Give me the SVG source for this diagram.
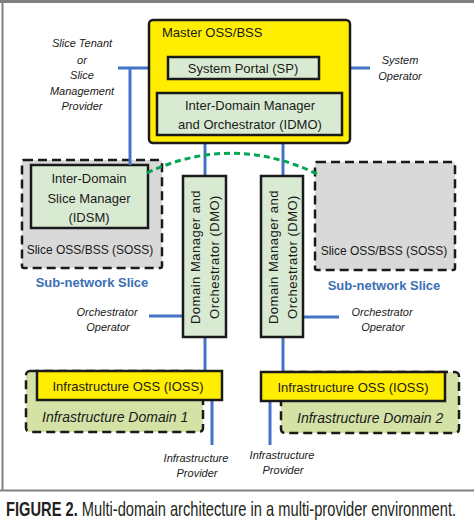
<svg xmlns="http://www.w3.org/2000/svg" width="474" height="523" viewBox="0 0 474 523">
<style>
.t{font-family:"Liberation Sans",Arial,sans-serif;font-size:13px;fill:#1a1a1a}
.i{font-family:"Liberation Sans",Arial,sans-serif;font-size:11px;font-style:italic;fill:#1a1a1a;text-anchor:middle}
.m{text-anchor:middle}
.v{letter-spacing:0.5px}
.blue{stroke:#4472c4;stroke-width:3;fill:none}
.gbox{fill:#d9ead3;stroke:#1a1a1a;stroke-width:2.5}
.ybox{fill:#ffee00;stroke:#1a1a1a;stroke-width:2.5}
.soss{fill:#d9d9d9;stroke:#1a1a1a;stroke-width:2.5;stroke-dasharray:9 5}
.dom{fill:#d4e2a6;stroke:#1a1a1a;stroke-width:2.5;stroke-dasharray:9 5}
.sub{font-family:"Liberation Sans",Arial,sans-serif;font-size:13px;font-weight:bold;fill:#3b6fb6;text-anchor:middle}
</style>
<rect x="0" y="0" width="474" height="523" fill="#ffffff"/>
<g id="frame" stroke="#808080" fill="none">
<line x1="0" y1="1.5" x2="474" y2="1.5" stroke-width="3"/>
<line x1="2.5" y1="0" x2="2.5" y2="491" stroke-width="2"/>
<line x1="0" y1="490.5" x2="474" y2="490.5" stroke-width="2"/>
</g>
<g id="soss-left">
<rect class="soss" x="22" y="160" width="140" height="108" rx="2"/>
<text class="t" x="90" y="254" style="font-size:12px" text-anchor="middle">Slice OSS/BSS (SOSS)</text>
<text class="sub" x="92" y="287">Sub-network Slice</text>
</g>
<g id="idsm">
<rect class="gbox" x="31" y="165" width="117" height="63"/>
<text class="t m" x="89" y="183">Inter-Domain</text>
<text class="t m" x="89" y="203">Slice Manager</text>
<text class="t m" x="89" y="222">(IDSM)</text>
</g>
<g id="soss-right">
<rect class="soss" x="315" y="162" width="140" height="108" rx="2"/>
<text class="t" x="384" y="255" style="font-size:12px" text-anchor="middle">Slice OSS/BSS (SOSS)</text>
<text class="sub" x="384" y="290">Sub-network Slice</text>
</g>
<g id="connectors">
<line class="blue" x1="118" y1="68" x2="168" y2="68"/>
<line class="blue" x1="130" y1="68" x2="130" y2="165"/>
<line class="blue" x1="319" y1="68" x2="370" y2="68"/>
<line class="blue" x1="205" y1="135" x2="205" y2="176"/>
<line class="blue" x1="283" y1="135" x2="283" y2="176"/>
<line class="blue" x1="205" y1="337" x2="205" y2="371"/>
<line class="blue" x1="283" y1="337" x2="283" y2="372"/>
<line class="blue" x1="149" y1="316" x2="183" y2="316"/>
<line class="blue" x1="303" y1="317" x2="339" y2="317"/>
<line class="blue" x1="212" y1="400" x2="212" y2="445"/>
<line class="blue" x1="270" y1="401" x2="270" y2="445"/>
<path d="M147 173 Q232 133 317 174" fill="none" stroke="#00a651" stroke-width="3" stroke-dasharray="6 4"/>
</g>
<g id="master">
<rect class="ybox" x="149" y="20" width="201" height="123" rx="4"/>
<text class="t" x="162" y="37">Master OSS/BSS</text>
</g>
<g id="sp">
<rect class="gbox" x="168" y="57" width="151" height="22"/>
<text class="t m" x="243" y="73">System Portal (SP)</text>
</g>
<g id="idmo">
<rect class="gbox" x="157" y="93" width="185" height="42"/>
<text class="t m" x="250" y="110">Inter-Domain Manager</text>
<text class="t m" x="250" y="129">and Orchestrator (IDMO)</text>
</g>
<g id="dmo1">
<rect class="gbox" x="183" y="176" width="43" height="161"/>
<text class="t m v" transform="translate(200,257) rotate(-90)">Domain Manager and</text>
<text class="t m v" transform="translate(219,257) rotate(-90)">Orchestrator (DMO)</text>
</g>
<g id="dmo2">
<rect class="gbox" x="261" y="176" width="42" height="161"/>
<text class="t m v" transform="translate(278,257) rotate(-90)">Domain Manager and</text>
<text class="t m v" transform="translate(297,257) rotate(-90)">Orchestrator (DMO)</text>
</g>
<g id="domain1">
<rect class="dom" x="26" y="371" width="177" height="61" rx="4"/>
<rect class="ybox" x="37" y="371" width="185" height="29"/>
<text class="t m" x="128" y="391">Infrastructure OSS (IOSS)</text>
<text class="t" x="42" y="422" style="font-size:14px;font-style:italic">Infrastructure Domain 1</text>
</g>
<g id="domain2">
<rect class="dom" x="281" y="372" width="178" height="61" rx="4"/>
<rect class="ybox" x="261" y="372" width="184" height="29"/>
<text class="t m" x="353" y="392">Infrastructure OSS (IOSS)</text>
<text class="t" x="297" y="423" style="font-size:14px;font-style:italic">Infrastructure Domain 2</text>
</g>
<g id="labels">
<text class="i" x="82" y="47">Slice Tenant</text>
<text class="i" x="82" y="64">or</text>
<text class="i" x="82" y="79">Slice</text>
<text class="i" x="82" y="95">Management</text>
<text class="i" x="82" y="110">Provider</text>
<text class="i" x="400" y="64">System</text>
<text class="i" x="400" y="80">Operator</text>
<text class="i" x="107" y="316">Orchestrator</text>
<text class="i" x="108" y="331">Operator</text>
<text class="i" x="382" y="316">Orchestrator</text>
<text class="i" x="383" y="331">Operator</text>
<text class="i" x="196" y="462">Infrastructure</text>
<text class="i" x="197" y="477">Provider</text>
<text class="i" x="282" y="459">Infrastructure</text>
<text class="i" x="283" y="474">Provider</text>
</g>
<g id="caption">
<text transform="scale(0.734,1)" x="8.2" y="516" font-family="'Liberation Sans',Arial,sans-serif" font-size="20" fill="#231f20"><tspan font-weight="bold">FIGURE 2.</tspan> Multi-domain architecture in a multi-provider environment.</text>
</g>
</svg>
